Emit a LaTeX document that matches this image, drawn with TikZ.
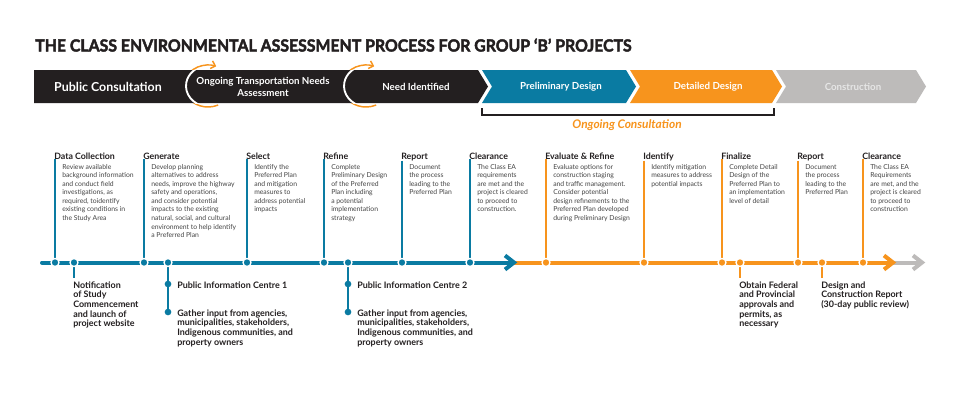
\documentclass[tikz,border=0pt]{standalone}
\usepackage{fontspec}
\setmainfont{Lato}
\newfontfamily\titlefont[BoldFeatures={FakeBold=2.5,FakeStretch=0.95}]{Lato}
\usetikzlibrary{arrows.meta}
\definecolor{cblack}{HTML}{231F20}
\definecolor{cblue}{HTML}{0A7BA2}
\definecolor{corange}{HTML}{F7941D}
\definecolor{cgrey}{HTML}{BDBBBA}
\definecolor{cgreytext}{HTML}{E6E6E6}
\definecolor{ctext}{HTML}{444444}

\newcommand\topstage[5]{% #1 x, #2 name, #3 colour, #4 heading, #5 body
  \coordinate (#2-t) at (#1,262.5);
  \node[head] (#2-h) at (#1-1,159) {#4};
  \node[body] (#2-b) at (#1+7,164) {#5};
  \draw[stem,#3] (#2-h.south west -| #2-t) -- (#2-t);
  \node[tdot=#3] (#2-d) at (#2-t) {};
}

\begin{document}
\begin{tikzpicture}[x=0.75pt,y=-0.75pt,
  head/.style={anchor=base west,inner sep=0,font=\bfseries\fontsize{6.6}{8}\selectfont,text=cblack},
  body/.style={anchor=north west,inner sep=0,align=left,font=\fontsize{5.1}{6.4}\selectfont,text=ctext},
  btext/.style={anchor=north west,inner sep=0,align=left,font=\bfseries\fontsize{6.7}{7.15}\selectfont,text=cblack},
  bann/.style={inner sep=0,align=center,font=\bfseries\fontsize{7.3}{8.4}\selectfont,text=white},
  stem/.style={line width=1.5pt},
  tdot/.style={circle,fill=#1,draw=white,line width=1pt,inner sep=0,minimum size=6pt},
  sdot/.style={circle,fill=#1,inner sep=0,minimum size=5pt},
  cyc/.style={corange,line width=1.1pt,-{Straight Barb[length=3pt,width=6pt]}}
]
\useasboundingbox (0,0) rectangle (960,411);
\fill[white] (0,0) rectangle (960,411);

% title
\node[anchor=base west,inner sep=0,font=\titlefont\bfseries\fontsize{12.5}{14}\selectfont,text=cblack] (title) at (35,51.5)
  {THE CLASS ENVIRONMENTAL ASSESSMENT PROCESS FOR GROUP ‘B’ PROJECTS};

% cycle arrows (behind banner)
\draw[cyc] (208,86) ++(65:24 and 21) arc[start angle=65,end angle=290,x radius=24,y radius=21];
\draw[cyc] (366,86) ++(65:24 and 21) arc[start angle=65,end angle=290,x radius=24,y radius=21];

% banner
\fill[cblack] (34,70) -- (478,70) -- (488,86.5) -- (478,103) -- (34,103) -- cycle;
\fill[cblue] (482,70) -- (626,70) -- (636,86.5) -- (626,103) -- (482,103) -- (492,86.5) -- cycle;
\fill[corange] (630,70) -- (772,70) -- (782,86.5) -- (772,103) -- (630,103) -- (640,86.5) -- cycle;
\fill[cgrey] (776,70) -- (916,70) -- (926,86.5) -- (916,103) -- (776,103) -- (786,86.5) -- cycle;
\begin{scope}
  \clip (34,70) rectangle (480,103);
  \draw[white,line width=1.4pt] (210,86) ++(100:24 and 21) arc[start angle=100,end angle=260,x radius=24,y radius=21];
  \draw[white,line width=1.4pt] (368,86) ++(100:24 and 21) arc[start angle=100,end angle=260,x radius=24,y radius=21];
\end{scope}

\node[bann,font=\bfseries\fontsize{9.3}{10}\selectfont] (b1) at (108,87) {Public Consultation};
\node[bann] (b2) at (263,87) {Ongoing Transportation Needs\\Assessment};
\node[bann] (b3) at (416,87) {Need Identified};
\node[bann] (b4) at (561,87) {Preliminary Design};
\node[bann] (b5) at (708,87) {Detailed Design};
\node[bann,text=cgreytext] (b6) at (853,87) {Construction};

% ongoing consultation bracket
\coordinate (br1) at (482,108);
\coordinate (br2) at (774,108);
\draw[cblack,line width=1.5pt] (br1) -- ++(0,7) -| (br2);
\node[inner sep=0,font=\bfseries\itshape\fontsize{8.9}{10}\selectfont,text=corange] (oc) at (627,125.5) {Ongoing Consultation};

% timeline
\coordinate (tl0) at (42,262.5);
\coordinate (tlb) at (514,262.5);
\coordinate (tlo) at (893,262.5);
\coordinate (tlg) at (922,262.5);
\draw[cgrey,line width=3pt] (tlo) -- ([xshift=-2pt]tlg);
\draw[cgrey,line width=3pt,line join=miter] (tlg) ++(-9,-7) -- (tlg) -- ++(-9,7);
\draw[corange,line width=3pt] (tlb) -- ([xshift=-2pt]tlo);
\draw[corange,line width=3pt,line join=miter] (tlo) ++(-9,-7) -- (tlo) -- ++(-9,7);
\draw[cblue,line width=3pt,line cap=round] (tl0) -- ([xshift=-2pt]tlb);
\draw[cblue,line width=3pt,line join=miter] (tlb) ++(-9,-7) -- (tlb) -- ++(-9,7);

% top stages
\topstage{55}{dc}{cblue}{Data Collection}{Review available\\background information\\and conduct field\\investigations, as\\required, toidentify\\existing conditions in\\the Study Area}
\topstage{144}{ge}{cblue}{Generate}{Develop planning\\alternatives to address\\needs, improve the highway\\safety and operations,\\and consider potential\\impacts to the existing\\natural, social, and cultural\\environment to help identify\\a Preferred Plan}
\topstage{247}{se}{cblue}{Select}{Identify the\\Preferred Plan\\and mitigation\\measures to\\address potential\\impacts}
\topstage{324}{rf}{cblue}{Refine}{Complete\\Preliminary Design\\of the Preferred\\Plan including\\a potential\\implementation\\strategy}
\topstage{402}{ra}{cblue}{Report}{Document\\the process\\leading to the\\Preferred Plan}
\topstage{470}{ca}{cblue}{Clearance}{The Class EA\\requirements\\are met and the\\project is cleared\\to proceed to\\construction.}
\topstage{546}{ev}{corange}{Evaluate \& Refine}{Evaluate options for\\construction staging\\and traffic management.\\Consider potential\\design refinements to the\\Preferred Plan developed\\during Preliminary Design}
\topstage{644}{id}{corange}{Identify}{Identify mitigation\\measures to address\\potential impacts}
\topstage{722}{fi}{corange}{Finalize}{Complete Detail\\Design of the\\Preferred Plan to\\an implementation\\level of detail}
\topstage{798}{rb}{corange}{Report}{Document\\the process\\leading to the\\Preferred Plan}
\topstage{863}{cb}{corange}{Clearance}{The Class EA\\Requirements\\are met, and the\\project is cleared\\to proceed to\\construction}

% bottom notes
\coordinate (no-t) at (74,262.5);
\coordinate (no-e) at (74,278);
\draw[stem,cblue] (no-t) -- (no-e);
\node[tdot=cblue] at (no-t) {};
\node[btext] (no) at (73,281.5) {Notification\\of Study\\Commencement\\and launch of\\project website};

\coordinate (p1-t) at (168,262.5);
\coordinate (p1-e1) at (168,284);
\coordinate (p1-e2) at (168,312);
\draw[stem,cblue] (p1-t) -- (p1-e2);
\node[tdot=cblue] at (p1-t) {};
\node[sdot=cblue] at (p1-e1) {};
\node[sdot=cblue] at (p1-e2) {};
\node[btext] (p1a) at (177,281.5) {Public Information Centre 1};
\node[btext] (p1b) at (177,309.5) {Gather input from agencies,\\municipalities, stakeholders,\\Indigenous communities, and\\property owners};

\coordinate (p2-t) at (348,262.5);
\coordinate (p2-e1) at (348,284);
\coordinate (p2-e2) at (348,312);
\draw[stem,cblue] (p2-t) -- (p2-e2);
\node[tdot=cblue] at (p2-t) {};
\node[sdot=cblue] at (p2-e1) {};
\node[sdot=cblue] at (p2-e2) {};
\node[btext] (p2a) at (357,281.5) {Public Information Centre 2};
\node[btext] (p2b) at (357,309.5) {Gather input from agencies,\\municipalities, stakeholders,\\Indigenous communities, and\\property owners};

\coordinate (ob-t) at (740,262.5);
\coordinate (ob-e) at (740,278);
\draw[stem,corange] (ob-t) -- (ob-e);
\node[tdot=corange] at (ob-t) {};
\node[btext] (ob) at (739,281.5) {Obtain Federal\\and Provincial\\approvals and\\permits, as\\necessary};

\coordinate (dr-t) at (822,262.5);
\coordinate (dr-e) at (822,278);
\draw[stem,corange] (dr-t) -- (dr-e);
\node[tdot=corange] at (dr-t) {};
\node[btext] (dr) at (821,281.5) {Design and\\Construction Report\\(30-day public review)};
\end{tikzpicture}
\end{document}
